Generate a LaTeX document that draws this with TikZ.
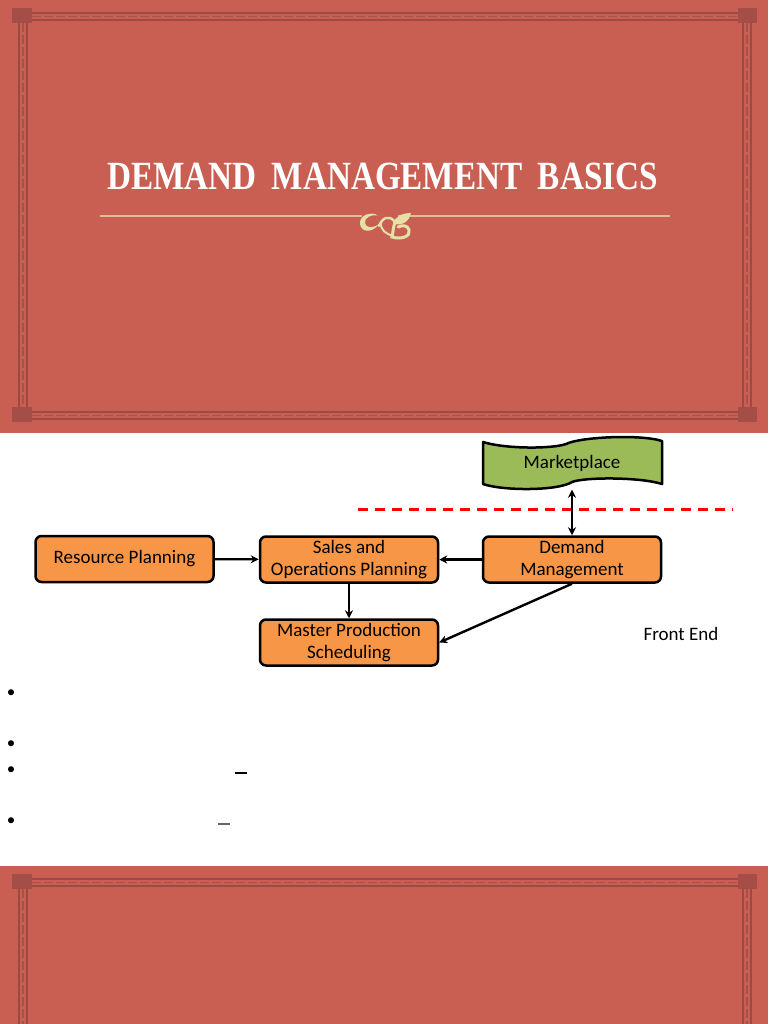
\documentclass[tikz,border=0pt]{standalone}
\usepackage{fontspec}
\usepackage{tikz}
\usetikzlibrary{arrows.meta}
\setmainfont{Carlito}
\newfontfamily\titlefont[FakeStretch=0.83]{Liberation Serif}
\definecolor{slidered}{HTML}{C95F52}
\definecolor{banddark}{HTML}{9C4A44}
\definecolor{boxorange}{HTML}{F79646}
\definecolor{boxgreen}{HTML}{9BBB59}
\definecolor{ornament}{HTML}{E6DFA8}
\definecolor{rulebeige}{HTML}{DCC08E}
\tikzset{
  planbox/.style={draw=black, fill=boxorange, line width=2.5, rounded corners=6,
    minimum width=178, minimum height=46, align=center, inner sep=0,
    font=\fontsize{19}{22}\selectfont},
  flow/.style={draw=black, line width=2.4, -{Stealth[length=8,width=8]}},
  bandline/.style={draw=banddark, line width=1.7},
  bandmid/.style={draw=banddark!70!slidered, line width=1.3, dash pattern=on 9 off 3}
}
% one slide frame: top band y, bottom band y
\newcommand{\slideframe}[2]{
  \foreach \yy in {#1,#2} {
    \fill[banddark!80!slidered] (12,\yy-5) rectangle (32,\yy+10);
    \fill[banddark!80!slidered] (738,\yy-5) rectangle (757,\yy+10);
    \draw[bandline] (32,\yy) -- (738,\yy);
    \draw[bandmid] (32,\yy+3.5) -- (738,\yy+3.5);
    \draw[bandline] (32,\yy+7) -- (738,\yy+7);
  }
  \foreach \xx in {19,27,743,751} {
    \draw[bandline] (\xx,#1+10) -- (\xx,#2-5);
  }
  \foreach \xx in {23,747} {
    \draw[bandmid] (\xx,#1+10) -- (\xx,#2-5);
  }
}

\begin{document}
\begin{tikzpicture}[x=1pt, y=-1pt]
  \useasboundingbox (0,0) rectangle (768,1024);
  \fill[white] (0,0) rectangle (768,1024);

  % slides
  \fill[slidered] (0,0) rectangle (768,433);
  \fill[slidered] (0,866) rectangle (768,1024);
  \slideframe{13}{412}
  \begin{scope}
    \clip (0,866) rectangle (768,1024);
    \slideframe{879}{1100}
  \end{scope}

  % title
  \node[text=white, font=\titlefont\bfseries\fontsize{40}{40}\selectfont] (title) at (382.5,176.5) {DEMAND\hspace{7pt} MANAGEMENT\hspace{7pt} BASICS};
  \draw[rulebeige, line width=1.6] (100,216) -- (362,216);
  \draw[rulebeige, line width=1.6] (398,216) -- (670,216);
  % ornament
  \fill[ornament] (378,215.5) .. controls (371,211) and (359,215) .. (360,224)
    .. controls (361,233) and (373,233) .. (379,224)
    .. controls (372,229) and (366,228) .. (365,223)
    .. controls (364,218) and (371,214) .. (378,215.5) -- cycle;
  \fill[ornament] (393,224) .. controls (395,216) and (403,213) .. (411,213)
    .. controls (409,222) and (402,226) .. (393,224) -- cycle;
  \draw[ornament, line width=2.4, line cap=round]
    (379,226) .. controls (382,218) and (389,214) .. (395,222);
  \draw[ornament, line width=2, line cap=round]
    (381,222) .. controls (380,231) and (387,234) .. (393,236);
  \draw[ornament, line width=3, line cap=round]
    (395,222) .. controls (393,228) and (393,233) .. (392,237)
    .. controls (402,240) and (411,236) .. (409,230)
    .. controls (408,225) and (402,225) .. (398,227);

  % diagram
  \node[planbox] (resource) at (124.5,559) {Resource Planning};
  \node[planbox] (sales) at (349,559.5) {Sales and\\Operations Planning};
  \node[planbox] (demand) at (572,559.5) {Demand\\Management};
  \node[planbox] (master) at (349,642.5) {Master Production\\Scheduling};

  \filldraw[draw=black, fill=boxgreen, line width=2.5, line join=round]
    (483,442) .. controls (505,449) and (552,449) .. (566,444)
    .. controls (580,437) and (640,434) .. (662,441)
    -- (662,484) .. controls (640,477) and (585,477) .. (572,482)
    .. controls (558,491) and (503,491) .. (483,484) -- cycle;
  \node[minimum width=178, minimum height=52, inner sep=0, font=\fontsize{19}{22}\selectfont] (market) at (572,463.5) {Marketplace};

  \draw[red, line width=2.2, dash pattern=on 10 off 7] (358,509.5) -- (733,509.5);

  \draw[flow, {Stealth[length=8,width=8]}-{Stealth[length=8,width=8]}] (market.south) -- (demand.north);
  \draw[flow] (resource) -- (sales);
  \draw[flow] (demand) -- (sales);
  \draw[flow] (sales) -- (master);
  \draw[flow] (demand.south) -- (master.east);

  \node[font=\fontsize{19}{22}\selectfont] (frontend) at (681,633.5) {Front End};

  % bullets
  \foreach \yy/\nm in {694/a,745/b,771/c,822/d} {
    \node[font=\fontsize{17}{22}\selectfont, inner sep=0] (bullet\nm) at (11,\yy) {•};
  }
  \draw[black, line width=1.2] (235,773) -- (247,773);
  \draw[black!60, line width=1.2] (218,824) -- (230,824);
\end{tikzpicture}
\end{document}
